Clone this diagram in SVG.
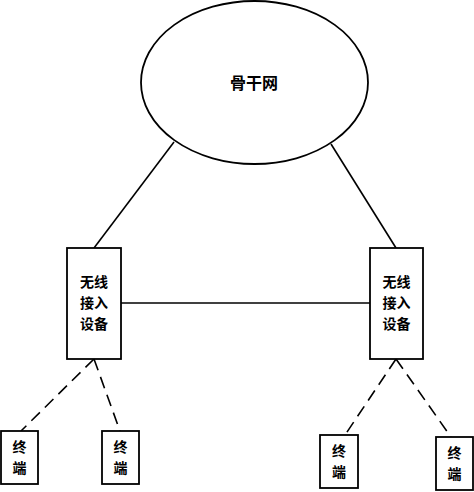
<svg xmlns="http://www.w3.org/2000/svg" width="474" height="492" viewBox="0 0 474 492">
<style>
.shape{fill:#fff;stroke:#000;stroke-width:1.8}
.ln{stroke:#000;stroke-width:1.6;fill:none}
.dash{stroke-dasharray:12 7}
text{font-family:"Noto Sans CJK SC","Noto Sans CJK JP",sans-serif;font-weight:bold;fill:#000;text-anchor:middle}
.big{font-size:16px}
.mid{font-size:14px}
.small{font-size:14px}
</style>
<rect width="474" height="492" fill="#fff"/>
<g id="connectors">
<line class="ln" x1="174" y1="142" x2="94" y2="248"/>
<line class="ln" x1="331" y1="144" x2="396" y2="248"/>
<line class="ln" x1="121" y1="303" x2="370" y2="303"/>
<line class="ln dash" x1="94" y1="359" x2="21" y2="431"/>
<line class="ln dash" x1="94" y1="359" x2="120" y2="431"/>
<line class="ln dash" x1="396" y1="359" x2="345" y2="435"/>
<line class="ln dash" x1="396" y1="359" x2="451" y2="437"/>
</g>
<g id="backbone">
<ellipse class="shape" cx="254.5" cy="82.5" rx="113.5" ry="81.5"/>
<text class="big" x="254" y="89">骨干网</text>
</g>
<g id="ap-left">
<rect class="shape" x="67" y="248" width="54" height="111"/>
<text class="mid" x="94" y="287"><tspan x="94">无线</tspan><tspan x="94" dy="21">接入</tspan><tspan x="94" dy="21">设备</tspan></text>
</g>
<g id="ap-right">
<rect class="shape" x="370" y="248" width="53" height="111"/>
<text class="mid" x="396.5" y="287"><tspan x="396.5">无线</tspan><tspan x="396.5" dy="21">接入</tspan><tspan x="396.5" dy="21">设备</tspan></text>
</g>
<g id="term-1">
<rect class="shape" x="1" y="431" width="37" height="53"/>
<text class="small" x="19.5" y="452"><tspan x="19.5">终</tspan><tspan x="19.5" dy="21">端</tspan></text>
</g>
<g id="term-2">
<rect class="shape" x="102" y="431" width="37" height="53"/>
<text class="small" x="120.5" y="452"><tspan x="120.5">终</tspan><tspan x="120.5" dy="21">端</tspan></text>
</g>
<g id="term-3">
<rect class="shape" x="320" y="435" width="38" height="53"/>
<text class="small" x="339" y="456"><tspan x="339">终</tspan><tspan x="339" dy="21">端</tspan></text>
</g>
<g id="term-4">
<rect class="shape" x="436" y="437" width="37" height="53"/>
<text class="small" x="454.5" y="458"><tspan x="454.5">终</tspan><tspan x="454.5" dy="21">端</tspan></text>
</g>
</svg>
